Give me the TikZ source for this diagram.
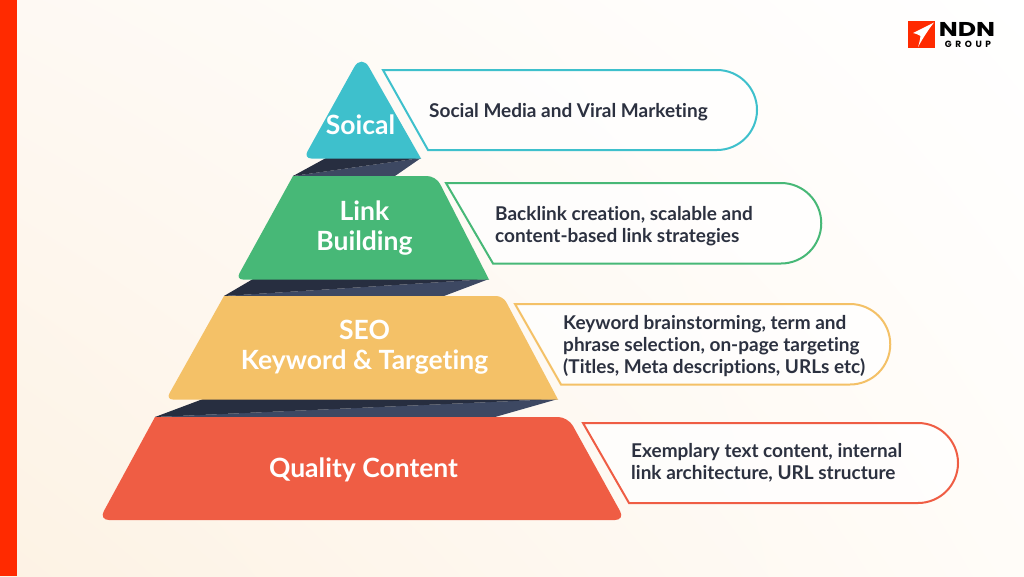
\documentclass[tikz,border=0pt]{standalone}
\usepackage{fontspec}
\setmainfont{Lato}[BoldFont={Lato Bold},Ligatures=NoCommon]
\newfontfamily\logofont{Poppins}[BoldFont={Poppins Bold}]
\usetikzlibrary{shadings}
\definecolor{cbar}{HTML}{FF2A00}
\definecolor{cteal}{HTML}{3EC0CC}
\definecolor{cgreen}{HTML}{47B877}
\definecolor{cyellow}{HTML}{F4C167}
\definecolor{cred}{HTML}{EF5D44}
\definecolor{sdark}{HTML}{272E40}
\definecolor{slight}{HTML}{3D4862}
\definecolor{ctext}{HTML}{2C3140}
\definecolor{bgll}{HTML}{FDF2E4}
\definecolor{bgul}{HTML}{FEF9F3}
\definecolor{bglr}{HTML}{FFFCF8}
\tikzset{
  x=1pt,y=-1pt,
  tier/.style={font=\fontsize{26.5}{30}\selectfont\bfseries,text=white,align=center,inner sep=0pt},
  desc/.style={font=\fontsize{19}{22}\selectfont\bfseries,text=ctext,align=left,anchor=west,inner sep=0pt},
  pill/.style={draw=#1,line width=2pt,fill=white,fill opacity=.75,line join=miter},
}
\begin{document}
\begin{tikzpicture}
\useasboundingbox (0,0) rectangle (1024,576);
\shade[lower left=bgll,upper left=bgul,upper right=white,lower right=bglr] (0,0) rectangle (1024,576);
\fill[cbar] (0,0) rectangle (17,576);

% shadows
\fill[slight] (293,176) -- (421,158) -- (395,176) -- cycle;
\fill[sdark] (293,176) -- (326,158) -- (421,158) -- cycle;
\fill[slight] (224,296) -- (489,279) -- (444,296) -- cycle;
\fill[sdark] (224,296) -- (253,279) -- (489,279) -- cycle;
\fill[slight] (155,417) -- (558,399) -- (495,417) -- cycle;
\fill[sdark] (155,417) -- (203,399) -- (558,399) -- cycle;

% tiers
\fill[cteal] (421,158.5) [rounded corners=15] -- (361.5,54) [rounded corners=8] -- (303.5,158.5) [sharp corners] -- cycle;
\fill[cgreen] (293,176) [rounded corners=9] -- (436,176) [sharp corners] -- (489,279.5) [rounded corners=7] -- (236,279.5) [sharp corners] -- cycle;
\fill[cyellow] (224,296) [rounded corners=7] -- (503,296) [sharp corners] -- (558,399.5) [rounded corners=7] -- (166,399.5) [sharp corners] -- cycle;
\fill[cred] (155,417) [rounded corners=10] -- (568,417) -- (625,520) -- (99,520) [sharp corners] -- cycle;

% callouts
\draw[pill=cteal] (383,70) -- (717,70) arc[start angle=-90,end angle=90,radius=40,y=-1pt] -- (428,150) -- cycle;
\draw[pill=cgreen] (446,183) -- (781,183) arc[start angle=-90,end angle=90,radius=40.25] -- (493,263.5) -- cycle;
\draw[pill=cyellow] (515,304) -- (850,304) arc[start angle=-90,end angle=90,radius=40.25] -- (561,384.5) -- cycle;
\draw[pill=cred] (583,423) -- (918,423) arc[start angle=-90,end angle=90,radius=40] -- (629,503) -- cycle;

% tier labels
\node[tier] (t1) at (360.5,125) {Soical};
\node[tier] (t2) at (364.5,228.5) {Link\\Building};
\node[tier] (t3) at (364.5,347) {SEO\\Keyword \& Targeting};
\node[tier] (t4) at (363.5,470) {Quality Content};

% descriptions
\node[desc] (d1) at (429,112) {Social Media and Viral Marketing};
\node[desc] (d2) at (495,226) {Backlink creation, scalable and\\content-based link strategies};
\node[desc] (d3) at (563,346) {Keyword brainstorming, term and\\phrase selection, on-page targeting\\(Titles, Meta descriptions, URLs etc)};
\node[desc] (d4) at (631,463) {Exemplary text content, internal\\link architecture, URL structure};

% logo
\fill[cbar] (908,21) rectangle (935,48);
\fill[white] (934,22.5) -- (913,33) .. controls (917,34) and (919,35) .. (920.5,36) .. controls (920,40) and (919,44) .. (918,47) .. controls (923,38) and (928,30) .. cycle;
\node[font=\logofont\fontsize{20}{20}\selectfont\bfseries,text=black,inner sep=0pt,xscale=1.26,transform shape] (l1) at (967,29) {NDN};
\node[font=\logofont\fontsize{9}{9}\selectfont\bfseries,text=black,inner sep=0pt] (l2) at (968,44) {G\hspace{3.6pt}R\hspace{3.6pt}O\hspace{3.6pt}U\hspace{3.6pt}P};
\end{tikzpicture}
\end{document}
